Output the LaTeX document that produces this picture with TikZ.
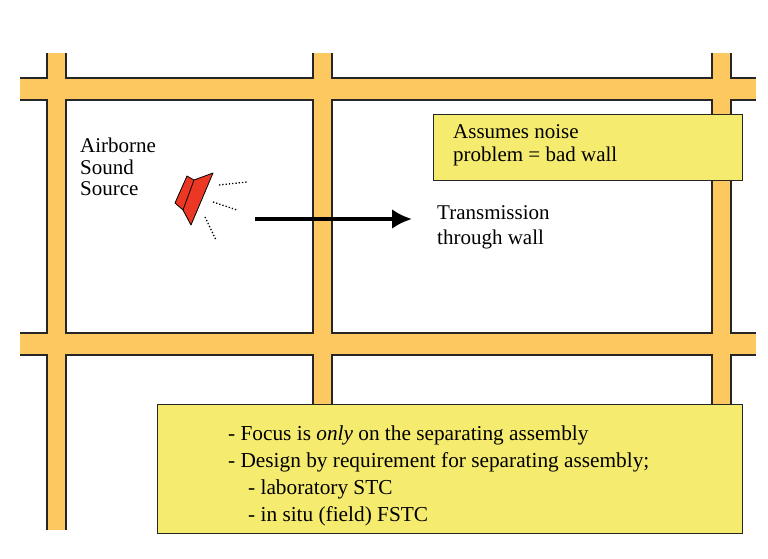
\documentclass[tikz,border=0pt]{standalone}
\usepackage{fontspec}
\setmainfont{Liberation Serif}
\usetikzlibrary{arrows.meta}
\begin{document}
\begin{tikzpicture}[x=1pt,y=-1pt,
  edge/.style={draw=black!85, line width=1.2pt},
  box/.style={draw=black!85, line width=1pt},
  txt/.style={font=\fontsize{21}{21.5}\selectfont, align=left, inner sep=0pt, anchor=north west}]
\definecolor{wallc}{RGB}{253,200,95}
\definecolor{boxc}{RGB}{245,235,110}
\definecolor{spk}{RGB}{235,55,35}
\useasboundingbox (0,0) rectangle (768,559);
\fill[white] (0,0) rectangle (768,559);
% walls
\fill[wallc] (20,78) rectangle (756,100);
\fill[wallc] (20,333) rectangle (756,355);
\fill[wallc] (47,53) rectangle (66,530);
\fill[wallc] (313,53) rectangle (332,420);
\fill[wallc] (712,53) rectangle (731,420);
% outlines
\draw[edge] (66,100) rectangle (313,333);
\draw[edge] (332,100) rectangle (712,333);
\draw[edge] (66,530) -- (66,355) -- (313,355) -- (313,420);
\draw[edge] (332,420) -- (332,355) -- (712,355) -- (712,420);
\draw[edge] (731,420) -- (731,355) -- (756,355);
\draw[edge] (47,530) -- (47,355) -- (20,355);
\draw[edge] (20,333) -- (47,333) -- (47,100) -- (20,100);
\draw[edge] (20,78) -- (47,78) -- (47,53);
\draw[edge] (66,53) -- (66,78) -- (313,78) -- (313,53);
\draw[edge] (332,53) -- (332,78) -- (712,78) -- (712,53);
\draw[edge] (731,53) -- (731,78) -- (756,78);
\draw[edge] (756,100) -- (731,100) -- (731,333) -- (756,333);
% speaker
\draw[fill=spk, draw=black, line width=0.8pt, line join=round]
  (175,203) -- (187,176) -- (194,180) -- (213,173) -- (191,225) -- (183,210) -- cycle;
\draw[black, line width=0.8pt] (194,180) -- (183,210);
\draw[black, dotted, line width=1.3pt] (219,185) -- (247,182);
\draw[black, dotted, line width=1.3pt] (213,202) -- (237,210);
\draw[black, dotted, line width=1.3pt] (205,217) -- (216,240);
% arrow
\coordinate (as) at (255,219);
\coordinate (ae) at (412,219);
\draw[line width=4.5pt, -{Latex[length=20pt,width=20pt]}] (as) -- (ae);
% texts
\node[txt] (src) at (80,138) {Airborne\\Sound\\Source};
\node[txt, font=\fontsize{21}{25}\selectfont] (tr) at (437,205) {Transmission\\through wall};
% boxes
\draw[box, fill=boxc] (433,115) rectangle (742,180);
\node[txt, font=\fontsize{21}{23}\selectfont] (b1) at (453,124) {Assumes noise\\problem = bad wall};
\draw[box, fill=boxc] (157,404) rectangle (742,533);
\node[txt, font=\fontsize{21.3}{26.7}\selectfont] (b2) at (228,426) {- Focus is \textit{only} on the separating assembly\\- Design by requirement for separating assembly;\\\hspace{20pt}- laboratory STC\\\hspace{20pt}- in situ (field) FSTC};
\end{tikzpicture}
\end{document}
